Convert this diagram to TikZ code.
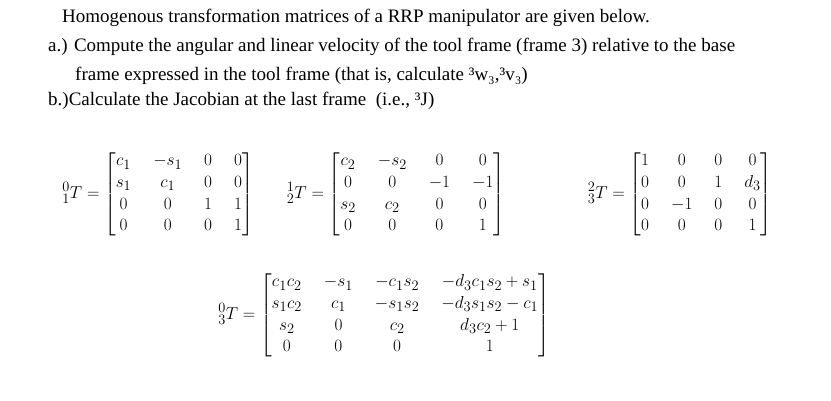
\documentclass[tikz,border=0pt]{standalone}
\usepackage{amsmath}
\usepackage{fontspec}
\setmainfont{Liberation Serif}
\begin{document}
\begin{tikzpicture}[x=1pt,y=-1pt,
  txt/.style={anchor=west,inner sep=0pt,font=\fontsize{19}{22}\selectfont},
  mat/.style={inner sep=0pt,font=\fontsize{19}{24}\selectfont}]
\useasboundingbox (0,0) rectangle (831,400);
\renewcommand\arraystretch{0.9}
\setlength\arraycolsep{11pt}
\node[txt] (l1) at (62,18) {Homogenous transformation matrices of a RRP manipulator are given below.};
\node[txt] (l2) at (48,47) {a.) Compute the angular and linear velocity of the tool frame (frame 3) relative to the base};
\node[txt] (l3) at (75,76) {frame expressed in the tool frame (that is, calculate ³w₃,³v₃)};
\node[txt] (l4) at (48,101) {b.)Calculate the Jacobian at the last frame\ \ (i.e., ³J)};
\node[mat] (m1) at (158,194) {$\displaystyle {}^0_1T=\begin{bmatrix} c_1 & -s_1 & 0 & 0\\ s_1 & c_1 & 0 & 0\\ 0&0&1&1\\ 0&0&0&1\end{bmatrix}$};
\node[mat] (m2) at (396,194) {$\displaystyle {}^1_2T=\begin{bmatrix} c_2 & -s_2 & 0 & 0\\ 0&0&-1&-1\\ s_2 & c_2 & 0 & 0\\ 0&0&0&1\end{bmatrix}$};
\node[mat] (m3) at (680,194) {$\displaystyle {}^2_3T=\begin{bmatrix} 1&0&0&0\\ 0&0&1&d_3\\ 0&-1&0&0\\ 0&0&0&1\end{bmatrix}$};
\node[mat] (m4) at (384,315) {$\displaystyle {}^0_3T=\begin{bmatrix} c_1c_2 & -s_1 & -c_1s_2 & -d_3c_1s_2+s_1\\ s_1c_2 & c_1 & -s_1s_2 & -d_3s_1s_2-c_1\\ s_2&0&c_2&d_3c_2+1\\ 0&0&0&1\end{bmatrix}$};
\end{tikzpicture}
\end{document}
